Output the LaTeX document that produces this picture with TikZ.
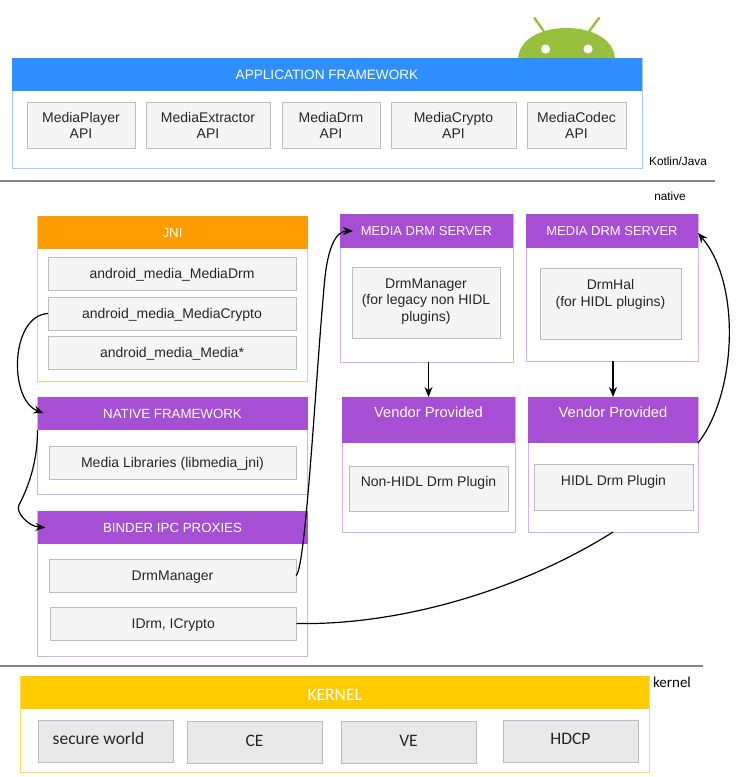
\documentclass[tikz,border=0pt]{standalone}
\usepackage{fontspec}
\setmainfont{Liberation Sans}
\newfontfamily\kernelfont{Carlito}
\usetikzlibrary{arrows.meta,calc}
\definecolor{hblue}{HTML}{2F8FFF}
\definecolor{hblueb}{HTML}{A5CBF5}
\definecolor{horange}{HTML}{FF9D00}
\definecolor{horangeb}{HTML}{F9CB85}
\definecolor{hpurple}{HTML}{A64FD5}
\definecolor{hpurpleb}{HTML}{D5B0E8}
\definecolor{hyellow}{HTML}{FFCC00}
\definecolor{hyellowb}{HTML}{FFDB4D}
\definecolor{innerfill}{HTML}{F5F5F5}
\definecolor{innerdraw}{HTML}{BDBDBD}
\definecolor{kernelfill}{HTML}{E9E9E9}
\definecolor{droid}{HTML}{97C03D}
\definecolor{rulegray}{HTML}{858585}
\tikzset{
  base/.style={rectangle,inner sep=0pt,outer sep=0pt,align=center,font=\fontsize{14}{16.4}\selectfont,text=black!85},
  panel/.style={base,fill=white,line width=0.9pt},
  head/.style={base,text=white,font=\fontsize{13.3}{16}\selectfont},
  vhead/.style={head,fill=hpurple,font=\fontsize{14.7}{16}\selectfont,text height=12pt,text depth=18pt},
  shead/.style={head,fill=hpurple,font=\fontsize{13}{16}\selectfont},
  boxed/.style={base,fill=innerfill,draw=innerdraw,line width=0.9pt},
  item/.style={boxed,text height=13pt,text depth=3pt},
  api/.style={boxed,text height=30.5pt,text depth=3pt},
  kitem/.style={boxed,fill=kernelfill,font=\kernelfont\fontsize{17.5}{19}\selectfont},
  side/.style={base,font=\fontsize{11.8}{14}\selectfont,text=black},
  sep/.style={draw=rulegray,line width=1.4pt},
  link/.style={draw=black,line width=1.2pt},
  arrow/.style={link,-{Stealth[length=10pt,width=8pt]}}
}
\newcommand{\bx}[7][]{%
  \pgfmathsetmacro{\bxcx}{(#4+#6)/2}\pgfmathsetmacro{\bxcy}{(#5+#7)/2}%
  \pgfmathsetmacro{\bxw}{#6-#4}\pgfmathsetmacro{\bxh}{#7-#5}%
  \node[#2,#1,minimum width=\bxw pt,minimum height=\bxh pt] (#3) at (\bxcx,\bxcy)}
\begin{document}
\begin{tikzpicture}[x=1pt,y=-1pt]
\useasboundingbox (0,0) rectangle (736,777);
% android mascot
\draw[droid,line width=2.4pt,line cap=round] (545,33) -- (534.5,18) (588,33) -- (599,18);
\fill[droid] (518,60) .. controls (518,40) and (540,28) .. (566.5,28) .. controls (593,28) and (615,40) .. (615,60) -- cycle;
\fill[white] (545.5,49) circle[radius=4.6] (588,49) circle[radius=4.6];
% application framework
\bx[draw=hblueb]{panel}{app}{12}{58}{642}{168}{};
\bx[fill=hblue,font=\fontsize{13.6}{16}\selectfont]{head}{apph}{12}{58}{642}{91}{APPLICATION FRAMEWORK};
\bx{api}{a1}{27}{102}{135}{148}{MediaPlayer\\API};
\bx{api}{a2}{146}{102}{270}{148}{MediaExtractor\\API};
\bx{api}{a3}{282}{102}{380}{148}{MediaDrm\\API};
\bx{api}{a4}{391}{102}{516}{148}{MediaCrypto\\API};
\bx{api}{a5}{527}{102}{626}{148}{MediaCodec\\API};
\node[side] (kj) at (678,161) {Kotlin/Java};
\node[side] (nat) at (670,196) {native};
\coordinate (s1a) at (0,181); \coordinate (s1b) at (715,181);
\draw[sep] (s1a) -- (s1b);
% JNI
\bx[draw=horangeb]{panel}{jni}{37.5}{216}{307.5}{381}{};
\bx[fill=horange]{head}{jnih}{37.5}{216}{307.5}{249}{JNI};
\bx{item}{j1}{48}{257}{296}{290}{android\_media\_MediaDrm};
\bx{item}{j2}{48}{297}{296}{330}{android\_media\_MediaCrypto};
\bx{item}{j3}{48}{336}{296}{369}{android\_media\_Media*};
% native framework
\bx[draw=hpurpleb]{panel}{nf}{37.5}{397}{307.5}{494}{};
\bx[fill=hpurple]{head}{nfh}{37.5}{397}{307.5}{430}{NATIVE FRAMEWORK};
\bx{item}{n1}{49}{446}{296}{479}{Media Libraries (libmedia\_jni)};
% binder
\bx[draw=hpurpleb]{panel}{bp}{37.5}{511}{307.5}{656}{};
\bx[fill=hpurple]{head}{bph}{37.5}{511}{307.5}{544}{BINDER IPC PROXIES};
\bx{item}{b1}{49}{559}{296}{592}{DrmManager};
\bx{item}{b2}{50}{607}{296.5}{640}{IDrm, ICrypto};
% media drm server 1
\bx[draw=hpurpleb]{panel}{s1}{340}{214}{513}{362}{};
\bx{shead}{s1h}{340}{214}{513}{248}{MEDIA DRM SERVER};
\bx[text depth=5pt]{boxed}{s1i}{352}{267}{500}{338}{DrmManager\\(for legacy non HIDL\\plugins)};
% media drm server 2
\bx[draw=hpurpleb]{panel}{s2}{526}{214}{698}{361}{};
\bx{shead}{s2h}{526}{214}{698}{248}{MEDIA DRM SERVER};
\bx[text depth=21pt]{boxed}{s2i}{540}{268}{681}{339}{DrmHal\\(for HIDL plugins)};
% vendor 1
\bx[draw=hpurpleb]{panel}{v1}{342}{397}{515}{532}{};
\bx{vhead}{v1h}{342}{397}{515}{443}{Vendor Provided};
\bx[text height=12pt,text depth=17pt]{boxed}{v1i}{349}{466}{508}{511}{Non-HIDL Drm Plugin};
% vendor 2
\bx[draw=hpurpleb]{panel}{v2}{528}{397}{698}{532}{};
\bx{vhead}{v2h}{528}{397}{698}{443}{Vendor Provided};
\bx[text height=12pt,text depth=16pt]{boxed}{v2i}{534}{464}{693}{510}{HIDL Drm Plugin};
% separator and kernel
\coordinate (s2a) at (0,666); \coordinate (s2b) at (703,666);
\draw[sep] (s2a) -- (s2b);
\node[side,font=\kernelfont\fontsize{15}{17}\selectfont] (kn) at (672,682) {kernel};
\bx[draw=hyellowb]{panel}{k}{20.5}{676}{649}{772}{};
\bx[fill=hyellow,font=\kernelfont\fontsize{17.5}{19}\selectfont,text height=19pt,text depth=3pt]{head}{kh}{20.5}{676}{649}{709}{KERNEL};
\bx[text height=12pt,text depth=5pt]{kitem}{k1}{38}{720}{173}{762}{\mbox{secure world\hspace{14pt}}};
\bx[text height=12pt,text depth=4pt]{kitem}{k2}{187}{721}{322}{763}{CE};
\bx[text height=12pt,text depth=4pt]{kitem}{k3}{341}{721}{476}{763}{VE};
\bx[text height=12pt,text depth=5pt]{kitem}{k4}{503}{720}{638}{762}{HDCP};
% connectors
\draw[arrow] (j2.west) .. controls +(-38,2) and +(-35,-13) .. ($(nfh.west)+(6,-0.5)$);
\draw[arrow] (nfh.south west) .. controls +(0,25) and +(13,-25) .. ($(bph.west)+(-18.5,-22.5)$)
  .. controls +(-4,7) and +(-17,-1) .. ($(bph.west)+(8,0)$);
\draw[arrow] (b1.east) .. controls +(10,-6) and +(-9,93) .. ($(s1h.north west)+(-15,63)$)
  .. controls +(3,-27) and +(-18,0) .. ($(s1h.west)+(13,0)$);
\draw[link] (b2.east) .. controls +(104,2) and +(-92,58) .. (v2.south);
\draw[arrow] (v2h.south east) .. controls +(38,-48) and +(44,52) .. ($(s2h.east)+(0,2)$);
\draw[arrow] ($(s1.south)+(2,0)$) -- (v1.north);
\draw[arrow] ($(s2.south)+(1,0)$) -- (v2.north);
\end{tikzpicture}
\end{document}
